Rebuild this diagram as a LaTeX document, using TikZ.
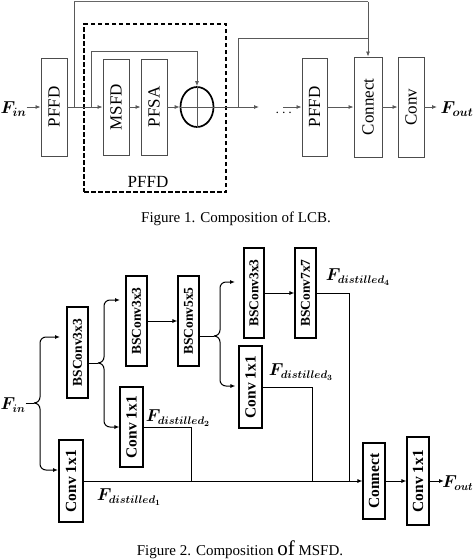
\documentclass[tikz,border=0pt]{standalone}
\usepackage{fontspec}
\setmainfont{Liberation Serif}
\usepackage{amsmath}
\usetikzlibrary{arrows.meta,shapes.geometric}
\newcommand\mybox[7]{%
\node[#6, minimum width={(#4-#2)*1pt}, minimum height={(#5-#3)*1pt}] (#1) at ({(#2+#4)/2},{(#3+#5)/2}) {\rotatebox{90}{#7}};}
\begin{document}
\begin{tikzpicture}[x=1pt,y=-1pt,>={Latex[length=5pt,width=4pt]},
  b1/.style={draw=black!70, line width=0.9pt, inner sep=0pt, font=\fontsize{17}{17}\selectfont},
  b2/.style={draw=black, line width=1.1pt, inner sep=0pt, font=\fontsize{13.5}{13.5}\selectfont\bfseries},
  b2c/.style={b2, font=\fontsize{15.5}{15.5}\selectfont\bfseries},
  ln1/.style={draw=black!65, line width=0.8pt},
  ln2/.style={draw=black, line width=1pt},
  lab/.style={inner sep=0pt, font=\fontsize{16}{16}\selectfont},
  figcap/.style={inner sep=0pt, font=\fontsize{15}{15}\selectfont}]
\useasboundingbox (0,0) rectangle (474,560);

% ---------------- Figure 1 ----------------
\node[draw=black, line width=1.6pt, dash pattern=on 4.5pt off 2.5pt, minimum width=142pt, minimum height=168pt, inner sep=0pt] (dbox) at (155,108) {};
\node[lab, font=\fontsize{17}{17}\selectfont] (dlab) at (148,182) {PFFD};

\mybox{pffda}{41}{58}{67}{156}{b1}{PFFD}
\mybox{msfd}{103}{59}{129}{155}{b1}{MSFD}
\mybox{pfsa}{141}{59}{167}{155}{b1}{PFSA}
\mybox{pffdb}{302}{58}{327}{156}{b1}{PFFD}
\mybox{conn1}{354}{57}{382}{157}{b1}{Connect}
\mybox{conv1}{398}{57}{424}{157}{b1}{Conv}
\node[draw=black, line width=1.7pt, ellipse, minimum width=33pt, minimum height=40pt, inner sep=0pt] (add) at (197,107) {};
\draw[ln1] (add.north) -- (add.south);
\draw[ln1] (add.west) -- (add.east);

\node[lab, font=\fontsize{17}{17}\selectfont, anchor=west] (fin1) at (0.5,109) {$\boldsymbol{F_{in}}$};
\node[lab, font=\fontsize{17}{17}\selectfont, anchor=east] (fout1) at (473.5,109) {$\boldsymbol{F_{out}}$};
\node[lab, font=\fontsize{15}{15}\selectfont] (dots) at (285,113) {$\cdots$};

\coordinate (jt1) at (74,107);
\coordinate (jt2) at (91,107);
\coordinate (jt3) at (238,107);
\coordinate (ea) at (259,107);
\coordinate (sb) at (283,107);
\coordinate (eo) at (437,107);

\draw[ln1,->] (fin1.east |- pffda.west) -- (pffda.west);
\draw[ln1,->] (pffda.east) -- (msfd.west);
\draw[ln1,->] (msfd.east) -- (pfsa.west);
\draw[ln1,->] (pfsa.east) -- (add.west);
\draw[ln1,->] (add.east) -- (ea);
\draw[ln1,->] (sb) -- (pffdb.west);
\draw[ln1,->] (pffdb.east) -- (conn1.west);
\draw[ln1,->] (conn1.east) -- (conv1.west);
\draw[ln1,->] (conv1.east) -- (eo);
\draw[ln1,->] (jt2) -- (91,51) -- (197,51) -- (add.north);
\draw[ln1,->] (jt3) -- (238,38) -- (368,38) -- (conn1.north);
\draw[draw=black!60, line width=1.8pt] (jt1 |- 0,1.5) -- (368,1.5);
\draw[ln1] (jt1) -- (74,1.5);
\draw[ln1] (368,1.5) -- (368,38);

\node[figcap] (cap1) at (236,219) {Figure 1. Composition of LCB.};

% ---------------- Figure 2 ----------------
\mybox{bs1}{67}{307}{88}{398}{b2}{BSConv3x3}
\mybox{bs2}{126}{276}{147}{366}{b2}{BSConv3x3}
\mybox{bs5}{178}{276}{199}{366}{b2}{BSConv5x5}
\mybox{bs3}{244}{248}{264}{338}{b2}{BSConv3x3}
\mybox{bs7}{295}{248}{316}{338}{b2}{BSConv7x7}
\mybox{cv1}{59}{440}{83}{522}{b2c}{Conv 1x1}
\mybox{cv2}{120}{387}{143}{467}{b2c}{Conv 1x1}
\mybox{cv3}{239}{346}{262}{428}{b2c}{Conv 1x1}
\mybox{cn2}{363}{443}{385}{519}{b2c}{Connect}
\mybox{cv4}{407}{437}{429}{525}{b2c}{Conv 1x1}

\node[lab, anchor=west] (fin2) at (0.5,405) {$\boldsymbol{F_{in}}$};
\node[lab, anchor=east] (fout2) at (473.5,483) {$\boldsymbol{F_{out}}$};
\node[lab] (fd1) at (129,497) {$\boldsymbol{F_{distilled_1}}$};
\node[lab] (fd2) at (178,418) {$\boldsymbol{F_{distilled_2}}$};
\node[lab] (fd3) at (301,372) {$\boldsymbol{F_{distilled_3}}$};
\node[lab] (fd4) at (358,277) {$\boldsymbol{F_{distilled_4}}$};

\coordinate (c1) at (34,403);
\coordinate (c2) at (98,363);
\coordinate (c3) at (214,336);
\coordinate (t1) at (60,337);
\coordinate (u1) at (58,470);
\coordinate (t2) at (120,300);
\coordinate (t3) at (235,282);

% brace 1
\draw[ln2] (fin2.east |- c1) -- (c1);
\draw[ln2,->] (c1) to[out=0,in=-90] (40,397) -- (40,343) to[out=90,in=180] (46,337) -- (t1);
\draw[ln2,->] (c1) to[out=0,in=90] (40,409) -- (40,464) to[out=-90,in=180] (46,470) -- (u1);
% brace 2
\draw[ln2] (bs1.east |- c2) -- (c2);
\draw[ln2,->] (c2) to[out=0,in=-90] (104,357) -- (104,306) to[out=90,in=180] (110,300) -- (t2);
\draw[ln2,->] (c2) to[out=0,in=90] (104,369) -- (104,421) to[out=-90,in=180] (110,427) -- (cv2.west);
% brace 3
\draw[ln2] (bs5.east |- c3) -- (c3);
\draw[ln2,->] (c3) to[out=0,in=-90] (220,330) -- (220,288) to[out=90,in=180] (226,282) -- (t3);
\draw[ln2,->,shorten >=3pt] (c3) to[out=0,in=90] (220,342) -- (220,380) to[out=-90,in=180] (226,386) -- (cv3.west |- 0,386);

\draw[ln2,->] (bs2.east) -- (bs5.west);
\draw[ln2,->] (bs3.east) -- (bs7.west);

\coordinate (j2) at (191,481);
\coordinate (j3) at (312,481);
\coordinate (j4) at (349,481);
\draw[ln2] (cv2.east) -- (191,427) -- (j2);
\draw[ln2] (cv3.east) -- (312,387) -- (j3);
\draw[ln2] (bs7.east) -- (349,293) -- (j4);
\draw[ln2,->] (cv1.east) -- (cn2.west);
\draw[ln2,->] (cn2.east) -- (cv4.west);
\coordinate (eo2) at (444,481);
\draw[ln2,->] (cv4.east) -- (eo2);

\node[figcap] (cap2) at (240,550) {Figure 2. Composition {\fontsize{21}{21}\selectfont of} MSFD.};
\end{tikzpicture}
\end{document}
